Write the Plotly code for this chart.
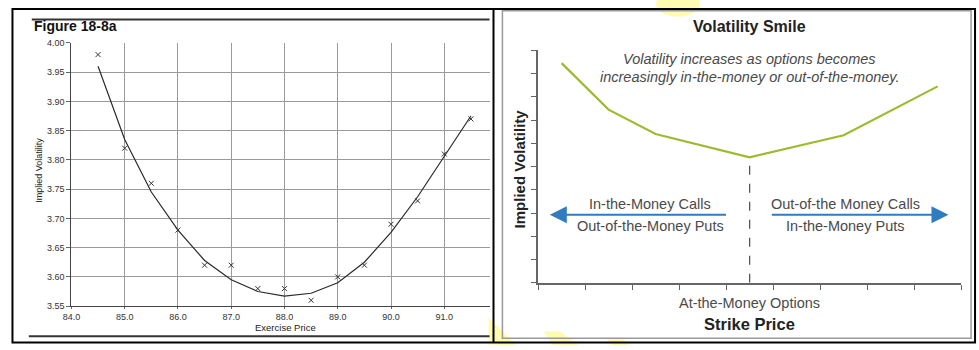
import plotly.graph_objects as go

W, H = 979, 350

# ---------------- data: left panel (Figure 18-8a) ----------------
strikes = [84.5, 85.0, 85.5, 86.0, 86.5, 87.0, 87.5, 88.0, 88.5, 89.0, 89.5, 90.0, 90.5, 91.0, 91.5]
observed_vol = [3.98, 3.82, 3.76, 3.68, 3.62, 3.62, 3.58, 3.58, 3.56, 3.60, 3.62, 3.69, 3.73, 3.81, 3.87]
fitted_vol = [3.96, 3.835, 3.745, 3.68, 3.628, 3.595, 3.575, 3.567, 3.572, 3.59, 3.625, 3.676, 3.737, 3.805, 3.875]
left_xticks = [84, 85, 86, 87, 88, 89, 90, 91]
left_yticks = [3.55, 3.60, 3.65, 3.70, 3.75, 3.80, 3.85, 3.90, 3.95, 4.00]

# ---------------- data: right panel (Volatility Smile) ----------------
smile_x = [0.5, 1.5, 2.5, 4.5, 6.5, 8.5]
smile_y = [9.45, 7.45, 6.4, 5.4, 6.35, 8.45]
atm_x = 4.5
arrow_y = 2.93
left_arrow = (4.03, 0.25)    # (tail, tip)
right_arrow = (4.94, 8.73)

def fx(px):
    return px / W

def fy(py):
    return 1 - py / H

fig = go.Figure()

# left panel traces
fig.add_trace(go.Scatter(x=strikes, y=fitted_vol, mode="lines",
                         line=dict(color="#2a2a2a", width=1.2),
                         xaxis="x", yaxis="y", showlegend=False, hoverinfo="skip"))
fig.add_trace(go.Scatter(x=strikes, y=observed_vol, mode="markers",
                         marker=dict(symbol="x-thin", size=5, line=dict(color="#333", width=1)),
                         xaxis="x", yaxis="y", showlegend=False))

# right panel traces
fig.add_trace(go.Scatter(x=smile_x, y=smile_y, mode="lines",
                         line=dict(color="#9dbb2e", width=2.2),
                         xaxis="x2", yaxis="y2", showlegend=False))
fig.add_trace(go.Scatter(x=[atm_x, atm_x], y=[0, smile_y[3]], mode="lines",
                         line=dict(color="#555", width=1.3, dash="dash"),
                         xaxis="x2", yaxis="y2", showlegend=False, hoverinfo="skip"))

font_main = "Liberation Sans, Arial, sans-serif"

fig.update_layout(
    width=W, height=H,
    margin=dict(l=0, r=0, t=0, b=0),
    paper_bgcolor="white", plot_bgcolor="white",
    font=dict(family=font_main),
    xaxis=dict(domain=[fx(63), fx(485)], range=[84, 91.85], tickvals=left_xticks,
               tickformat=".1f", showgrid=True, gridcolor="#9a9a9a", gridwidth=1,
               showline=True, linecolor="#444", linewidth=1.2, zeroline=False,
               ticks="outside", ticklen=2, tickcolor="#666",
               tickfont=dict(size=9, color="#333"), anchor="y"),
    yaxis=dict(domain=[fy(310), fy(39)], range=[3.55, 4.00], tickvals=left_yticks,
               tickformat=".2f", showgrid=True, gridcolor="#9a9a9a", gridwidth=1,
               showline=True, linecolor="#444", linewidth=1.2, zeroline=False,
               ticks="outside", ticklen=4, tickcolor="#666",
               tickfont=dict(size=9, color="#333"), anchor="x"),
    xaxis2=dict(domain=[fx(534), fx(961)], range=[0, 9], dtick=1, tick0=0,
                showgrid=False, zeroline=False, showticklabels=False,
                showline=True, linecolor="#666", linewidth=1.5,
                ticks="outside", ticklen=5, tickcolor="#666", tickwidth=1.2, anchor="y2"),
    yaxis2=dict(domain=[fy(286), fy(46.7)], range=[0, 10], dtick=1, tick0=0,
                showgrid=False, zeroline=False, showticklabels=False,
                showline=True, linecolor="#666", linewidth=1.5,
                ticks="outside", ticklen=5, tickcolor="#666", tickwidth=1.2, anchor="x2"),
)

shapes = []
# yellow highlighter artifacts (behind)
yellow = "rgba(255,250,150,0.75)"
shapes.append(dict(type="path", xref="paper", yref="paper", layer="below",
                   path=f"M {fx(484)},{fy(322)} L {fx(512)},{fy(350)} L {fx(484)},{fy(350)} Z",
                   fillcolor=yellow, line=dict(width=0)))
shapes.append(dict(type="path", xref="paper", yref="paper", layer="below",
                   path=f"M {fx(540)},{fy(336)} L {fx(556)},{fy(336)} L {fx(575)},{fy(350)} L {fx(548)},{fy(350)} Z",
                   fillcolor=yellow, line=dict(width=0)))
shapes.append(dict(type="path", xref="paper", yref="paper", layer="below",
                   path=f"M {fx(602)},{fy(342)} L {fx(618)},{fy(342)} L {fx(626)},{fy(350)} L {fx(608)},{fy(350)} Z",
                   fillcolor=yellow, line=dict(width=0)))
shapes.append(dict(type="circle", xref="paper", yref="paper", layer="below",
                   x0=fx(653), x1=fx(697), y0=fy(12), y1=fy(-14),
                   fillcolor=yellow, line=dict(width=0)))
# left panel rules
shapes.append(dict(type="line", xref="paper", yref="paper", x0=fx(23), x1=fx(485), y0=fy(15), y1=fy(15),
                   line=dict(color="#333", width=2)))
shapes.append(dict(type="line", xref="paper", yref="paper", x0=fx(20), x1=fx(485), y0=fy(341), y1=fy(341),
                   line=dict(color="#333", width=2)))
# right panel gray frame
shapes.append(dict(type="rect", xref="paper", yref="paper", x0=fx(498), x1=fx(971), y0=fy(343), y1=fy(6),
                   line=dict(color="#999", width=1.5)))
# outer black borders
shapes.append(dict(type="rect", xref="paper", yref="paper", x0=fx(3.5), x1=fx(975), y0=fy(347.5), y1=fy(4),
                   line=dict(color="black", width=2)))
shapes.append(dict(type="line", xref="paper", yref="paper", x0=fx(489), x1=fx(489), y0=fy(347.5), y1=fy(4),
                   line=dict(color="black", width=2)))
fig.update_layout(shapes=shapes)

txt = "#4a4a4a"
ann = []
ann.append(dict(text="<b>Figure 18-8a</b>", xref="paper", yref="paper", x=fx(23), y=fy(22),
                xanchor="left", yanchor="middle", showarrow=False,
                font=dict(size=14, color="#111", family=font_main)))
ann.append(dict(text="Exercise Price", xref="paper", yref="paper", x=fx(279), y=fy(332),
                xanchor="center", yanchor="middle", showarrow=False,
                font=dict(size=9.5, color="#222", family=font_main)))
ann.append(dict(text="Implied Volatility", xref="paper", yref="paper", x=fx(30), y=fy(170),
                xanchor="center", yanchor="middle", showarrow=False, textangle=-90,
                font=dict(size=9, color="#222", family=font_main)))

ann.append(dict(text="<b>Volatility Smile</b>", xref="paper", yref="paper", x=fx(747), y=fy(22),
                xanchor="center", yanchor="middle", showarrow=False,
                font=dict(size=16, color="#222", family=font_main)))
ann.append(dict(text="<i>Volatility increases as options becomes</i>", xref="paper", yref="paper",
                x=fx(747), y=fy(56), xanchor="center", yanchor="middle", showarrow=False,
                font=dict(size=14.5, color=txt, family=font_main)))
ann.append(dict(text="<i>increasingly in-the-money or out-of-the-money.</i>", xref="paper", yref="paper",
                x=fx(748), y=fy(74), xanchor="center", yanchor="middle", showarrow=False,
                font=dict(size=14.5, color=txt, family=font_main)))
ann.append(dict(text="<b>Implied Volatility</b>", xref="paper", yref="paper", x=fx(515), y=fy(169),
                xanchor="center", yanchor="middle", showarrow=False, textangle=-90,
                font=dict(size=15, color="#222", family=font_main)))
ann.append(dict(text="At-the-Money Options", xref="paper", yref="paper", x=fx(747), y=fy(307),
                xanchor="center", yanchor="middle", showarrow=False,
                font=dict(size=14.5, color=txt, family=font_main)))
ann.append(dict(text="<b>Strike Price</b>", xref="paper", yref="paper", x=fx(747), y=fy(328),
                xanchor="center", yanchor="middle", showarrow=False,
                font=dict(size=16.5, color="#222", family=font_main)))
ann.append(dict(text="In-the-Money Calls", xref="paper", yref="paper", x=fx(647), y=fy(205),
                xanchor="center", yanchor="middle", showarrow=False,
                font=dict(size=14.5, color=txt, family=font_main)))
ann.append(dict(text="Out-of-the-Money Puts", xref="paper", yref="paper", x=fx(647), y=fy(228),
                xanchor="center", yanchor="middle", showarrow=False,
                font=dict(size=14.5, color=txt, family=font_main)))
ann.append(dict(text="Out-of-the Money Calls", xref="paper", yref="paper", x=fx(844), y=fy(205),
                xanchor="center", yanchor="middle", showarrow=False,
                font=dict(size=14.5, color=txt, family=font_main)))
ann.append(dict(text="In-the-Money Puts", xref="paper", yref="paper", x=fx(844), y=fy(228),
                xanchor="center", yanchor="middle", showarrow=False,
                font=dict(size=14.5, color=txt, family=font_main)))
# arrows
for tail, tip in (left_arrow, right_arrow):
    ann.append(dict(text="", xref="x2", yref="y2", axref="x2", ayref="y2",
                    x=tip, y=arrow_y, ax=tail, ay=arrow_y, showarrow=True,
                    arrowhead=2, arrowsize=1.7, arrowwidth=2, arrowcolor="#2f7cc0", standoff=0))
fig.update_layout(annotations=ann)

fig.write_html("out.html")
